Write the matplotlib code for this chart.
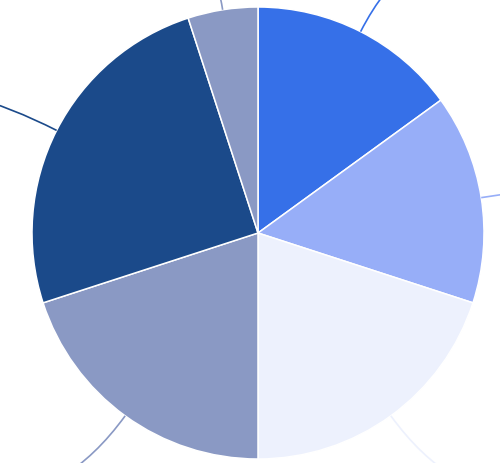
import numpy as np
import matplotlib
matplotlib.use("Agg")
from matplotlib import pyplot as plt
from matplotlib.path import Path
from matplotlib.patches import PathPatch

# slice data (clockwise from 12 o'clock)
labels = ["A", "B", "C", "D", "E", "F"]
values = [15, 15, 20, 20, 25, 5]
colors = ["#3670e8", "#97aef8", "#edf1fd", "#8a99c4", "#1b4a8a", "#8a99c4"]

fig = plt.figure(figsize=(5.0, 4.64), dpi=100)
ax = fig.add_axes([0, 0, 1, 1])
ax.axis('off')

wedges, _ = ax.pie(values, colors=colors, startangle=90, counterclock=False,
                   radius=1.0, center=(0, 0),
                   wedgeprops=dict(edgecolor="white", linewidth=1.1))

# leader lines (labels sit outside the visible area)
for w, c in zip(wedges, colors):
    mid = np.deg2rad((w.theta1 + w.theta2) / 2.0)
    cx, cy = np.cos(mid), np.sin(mid)
    p0 = (cx * 1.0, cy * 1.0)
    p1 = (cx * 1.45, cy * 1.45)
    p2 = (p1[0] + 0.35 * np.sign(cx), p1[1])
    path = Path([p0, p1, p2], [Path.MOVETO, Path.CURVE3, Path.CURVE3])
    ax.add_patch(PathPatch(path, facecolor="none", edgecolor=c, linewidth=1.2))

ax.set_aspect('equal')
ax.set_xlim(-258 / 226, 242 / 226)
ax.set_ylim(-230 / 226, 234 / 226)

fig.savefig('out.png', dpi=100)
print('done')
